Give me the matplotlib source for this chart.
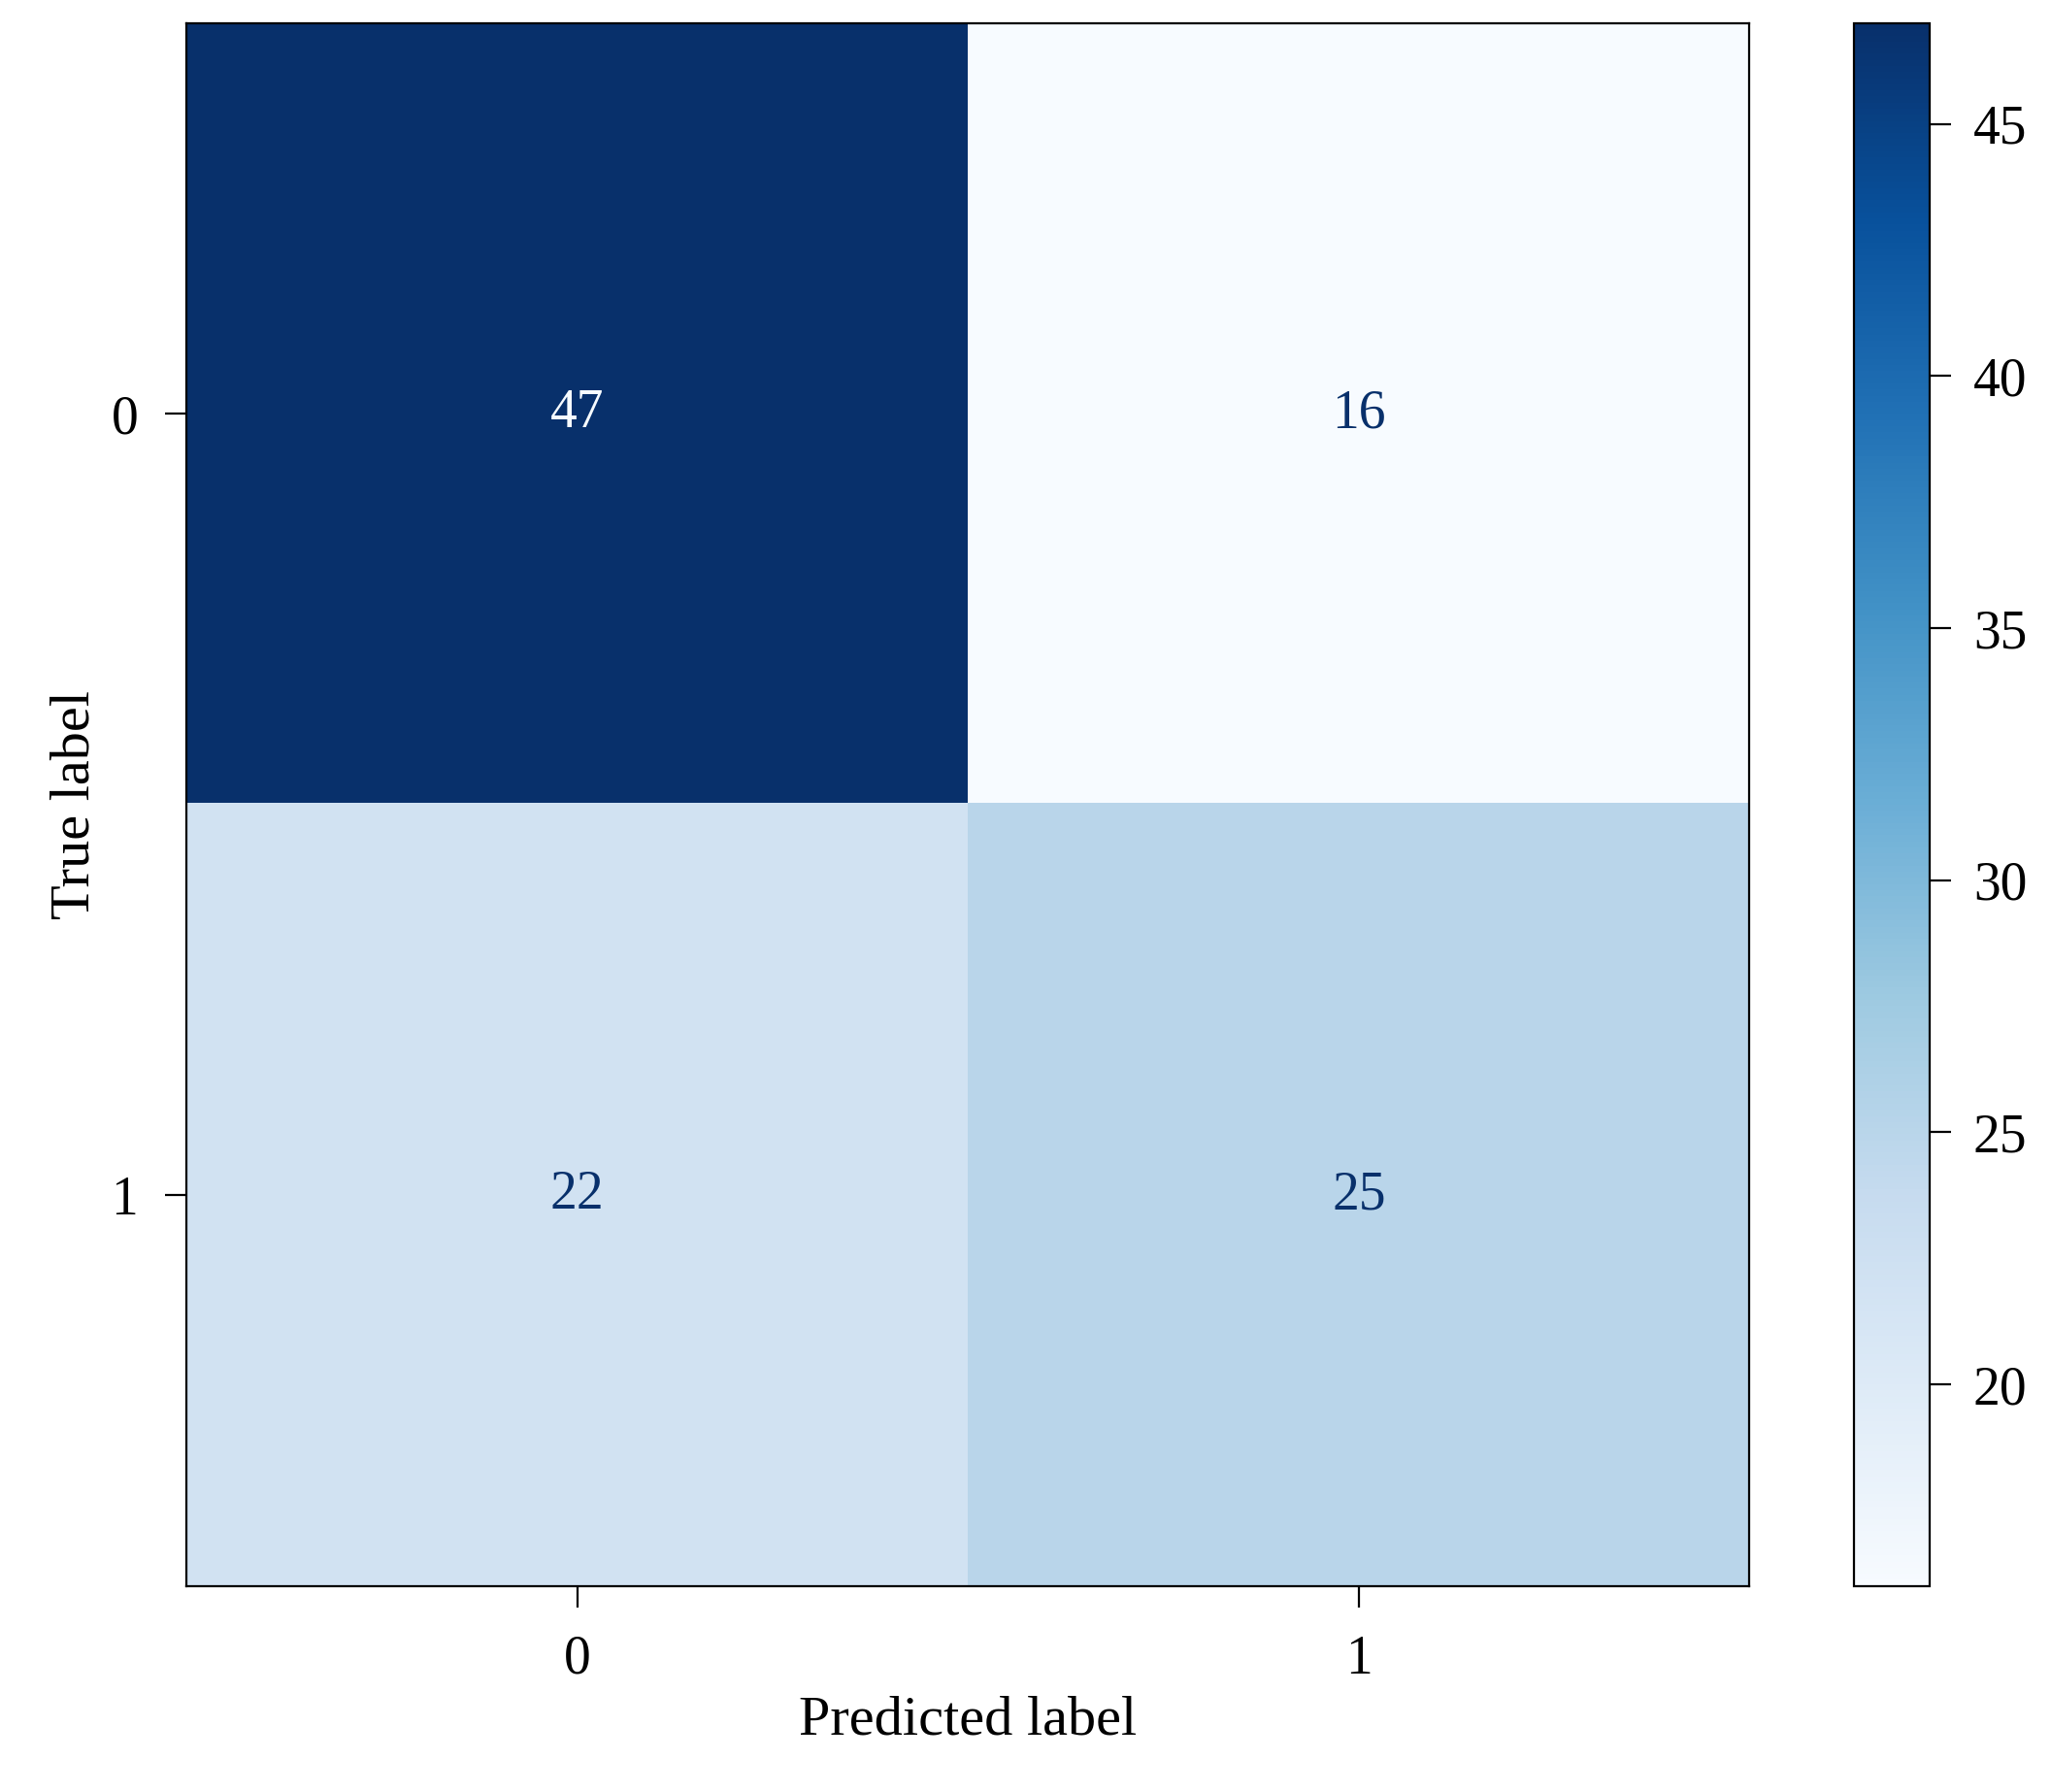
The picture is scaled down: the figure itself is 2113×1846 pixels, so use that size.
import numpy as np
import matplotlib.pyplot as plt

plt.rcParams['font.family'] = ['Liberation Serif', 'DejaVu Serif']

labels = ['0', '1']
cm = np.array([[47, 16],
               [22, 25]])

fig = plt.figure(figsize=(10.565, 9.23), dpi=200)
ax = fig.add_axes([0.091, 0.115, 0.762, 0.872])
cax = fig.add_axes([0.904, 0.115, 0.037, 0.872])

im = ax.imshow(cm, cmap='Blues', aspect='auto')
cmap = plt.get_cmap('Blues')
thresh = (cm.max() + cm.min()) / 2
for i in range(2):
    for j in range(2):
        col = cmap(0.0) if cm[i, j] > thresh else cmap(1.0)
        ax.text(j, i, str(cm[i, j]), ha='center', va='center', color=col, fontsize=20)

ax.set_xticks(range(2))
ax.set_yticks(range(2))
ax.set_xticklabels(labels)
ax.set_yticklabels(labels)
ax.tick_params(labelsize=20, length=8, pad=10)
ax.set_xlabel('Predicted label', fontsize=21)
ax.set_ylabel('True label', fontsize=21)

cb = fig.colorbar(im, cax=cax)
cb.set_ticks([20, 25, 30, 35, 40, 45])
cb.ax.tick_params(labelsize=20, length=8, pad=8)

fig.savefig('out.png', dpi=200)
